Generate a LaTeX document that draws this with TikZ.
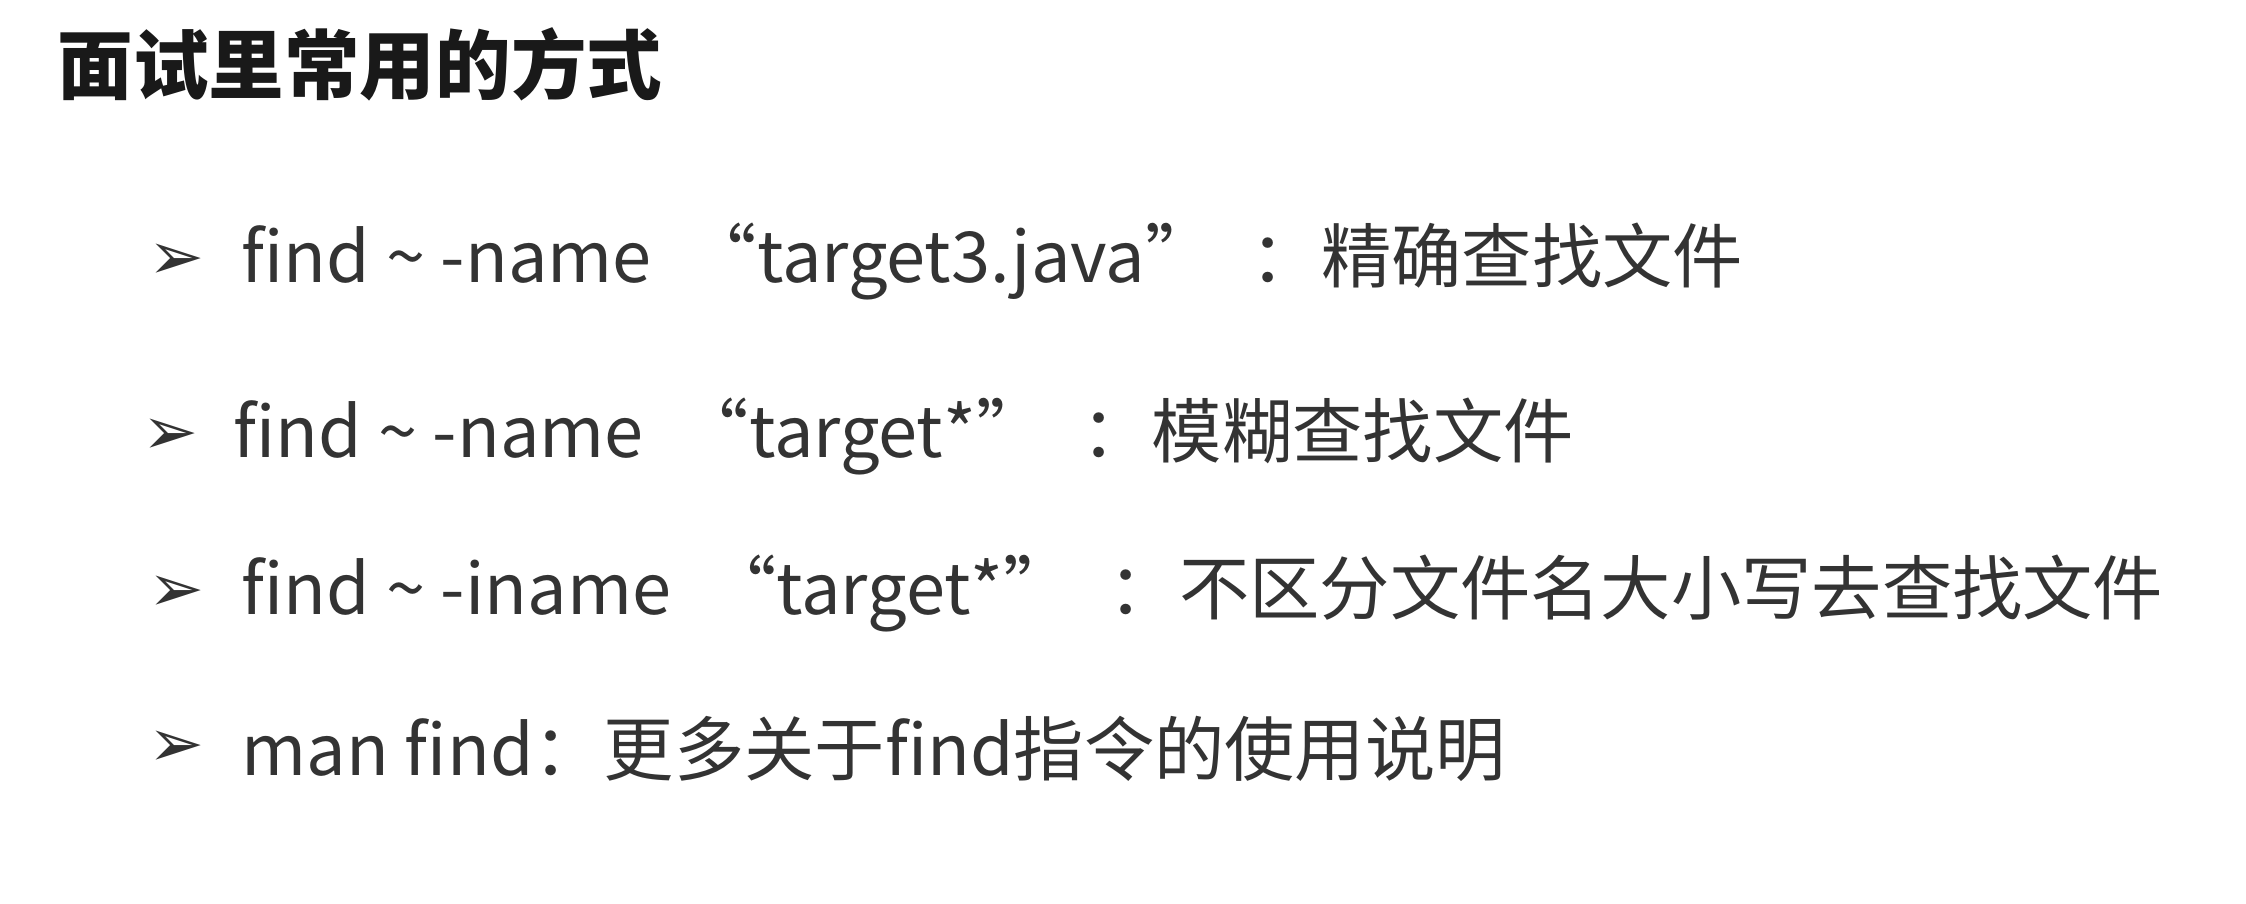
\documentclass[tikz,border=0pt]{standalone}
\usepackage{fontspec}
\setmainfont{Noto Sans CJK SC}
\newfontfamily\symfont{DejaVu Sans}
\begin{document}
\begin{tikzpicture}[every node/.style={inner sep=0pt, anchor=west, text=black!80},
    itemtext/.style={font=\fontsize{20}{24}\selectfont},
    bullet/.style={font=\symfont\fontsize{19}{22}\selectfont}]
    \useasboundingbox (0,0) rectangle (22.46,9.04);
    \node[font=\fontsize{21.5}{25}\selectfont\bfseries, text=black!90] (title) at (0.57,8.40) {面试里常用的方式};
    \node[bullet] (b1) at (1.48,6.42) {➢};
    \node[itemtext] (t1) at (2.41,6.42) {find \textasciitilde{} -name\enspace “target3.java”\enspace ：精确查找文件};
    \node[bullet] (b2) at (1.42,4.67) {➢};
    \node[itemtext] (t2) at (2.33,4.67) {find \textasciitilde{} -name\enspace “target*”\enspace ：模糊查找文件};
    \node[bullet] (b3) at (1.48,3.10) {➢};
    \node[itemtext] (t3) at (2.41,3.10) {find \textasciitilde{} -iname\enspace “target*”\enspace ：不区分文件名大小写去查找文件};
    \node[bullet] (b4) at (1.48,1.55) {➢};
    \node[itemtext] (t4) at (2.41,1.55) {man find：更多关于find指令的使用说明};
\end{tikzpicture}
\end{document}
